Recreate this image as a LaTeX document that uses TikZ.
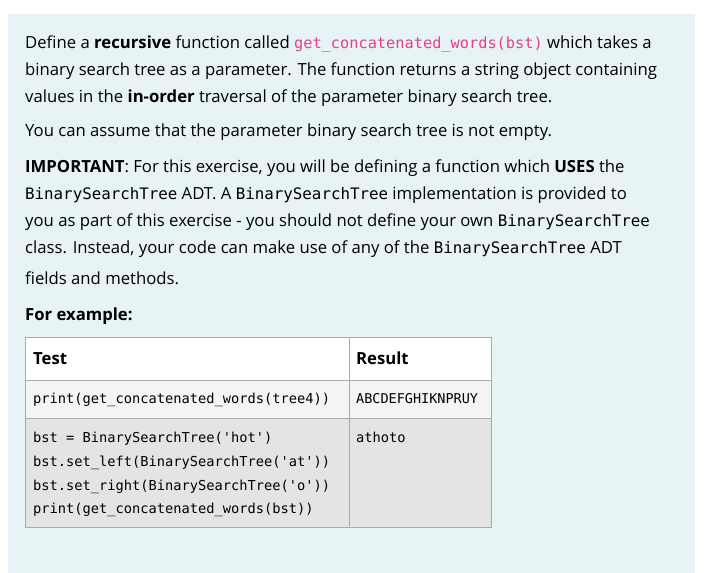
\documentclass[tikz,border=0pt]{standalone}
\usepackage{fontspec}
\setmainfont{Open Sans}
\setmonofont{DejaVu Sans Mono}
\definecolor{bgc}{HTML}{E7F3F5}
\definecolor{codec}{HTML}{E83E8C}
\definecolor{rowa}{HTML}{F4F4F4}
\definecolor{rowb}{HTML}{E4E4E4}
\definecolor{bord}{HTML}{AAAAAA}
\newcommand{\cd}[1]{{\ttfamily\fontsize{15.8}{16}\selectfont #1}}
\newcommand{\pk}[1]{{\color{codec}\ttfamily\fontsize{15.3}{16}\selectfont #1}}
\tikzset{txt/.style={anchor=base west,inner sep=0pt,font=\fontsize{16.7}{18}\selectfont},
 ctxt/.style={anchor=base west,inner sep=0pt,font=\ttfamily\fontsize{13.7}{16}\selectfont}}
\begin{document}
\begin{tikzpicture}[x=1pt,y=-1pt]
\useasboundingbox (0,0) rectangle (715,573);
\fill[white] (0,0) rectangle (715,573);
\fill[bgc] (8,14) rectangle (695,573);
\node[txt] (l1) at (25,48) {Define a \textbf{recursive} function called \pk{get\_concatenated\_words(bst)} which takes a};
\node[txt] (l2) at (25,75) {binary search tree as a parameter. The function returns a string object containing};
\node[txt] (l3) at (25,102) {values in the \textbf{in-order} traversal of the parameter binary search tree.};
\node[txt] (l4) at (25,136) {You can assume that the parameter binary search tree is not empty.};
\node[txt] (l5) at (25,172) {\textbf{IMPORTANT}: For this exercise, you will be defining a function which \textbf{USES} the};
\node[txt] (l6) at (25,199) {\cd{BinarySearchTree} ADT. A \cd{BinarySearchTree} implementation is provided to};
\node[txt] (l7) at (25,226) {you as part of this exercise - you should not define your own \cd{BinarySearchTree}};
\node[txt] (l8) at (25,253) {class. Instead, your code can make use of any of the \cd{BinarySearchTree} ADT};
\node[txt] (l9) at (25,284) {fields and methods.};
\node[txt] (l10) at (25,320) {\textbf{For example:}};
% table
\fill[white] (25,337) rectangle (491,380);
\fill[rowa] (25,380) rectangle (491,418);
\fill[rowb] (25,418) rectangle (491,527);
\draw[bord] (25,337) rectangle (491,527);
\draw[bord] (25,380) -- (491,380);
\draw[bord] (25,418) -- (491,418);
\draw[bord] (349,337) -- (349,527);
\node[txt] (h1) at (33,364) {\textbf{Test}};
\node[txt] (h2) at (356,364) {\textbf{Result}};
\node[ctxt] (r1) at (33,403) {print(get\_concatenated\_words(tree4))};
\node[ctxt,font=\ttfamily\fontsize{13.5}{14}\selectfont] (r2) at (356,403) {ABCDEFGHIKNPRUY};
\node[ctxt] (c1) at (33,442) {bst = BinarySearchTree('hot')};
\node[ctxt] (c2) at (33,466) {bst.set\_left(BinarySearchTree('at'))};
\node[ctxt] (c3) at (33,490) {bst.set\_right(BinarySearchTree('o'))};
\node[ctxt] (c4) at (33,513) {print(get\_concatenated\_words(bst))};
\node[ctxt] (r3) at (356,442) {athoto};
\end{tikzpicture}
\end{document}
